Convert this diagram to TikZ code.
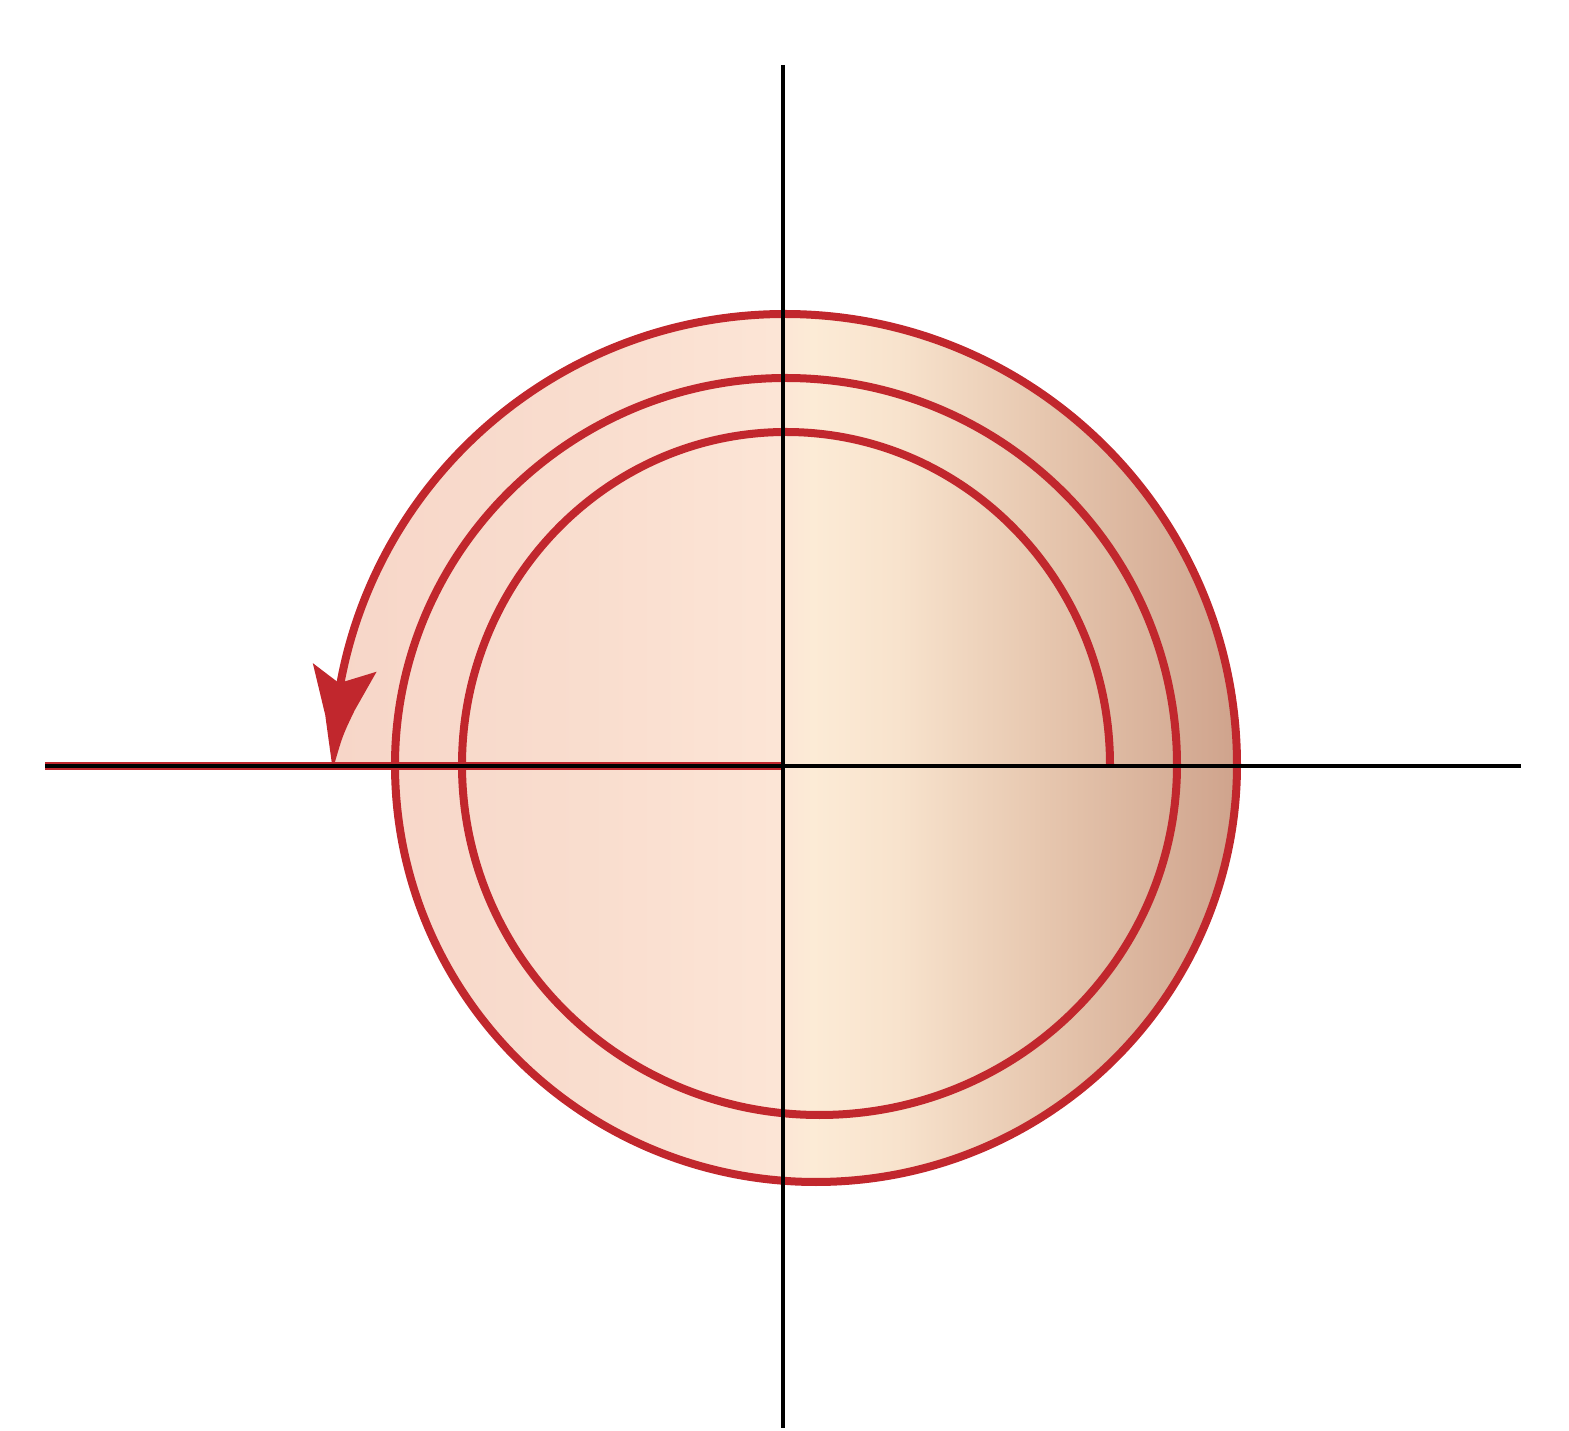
\documentclass[tikz,border=0pt]{standalone}
\definecolor{spred}{HTML}{C1272D}
\definecolor{cA}{HTML}{F7D6C8}
\definecolor{cB}{HTML}{F9DDCE}
\definecolor{cC}{HTML}{FCE5D6}
\definecolor{cD}{HTML}{FCEBD6}
\definecolor{cE}{HTML}{F8E3CD}
\definecolor{cF}{HTML}{E6C6AE}
\definecolor{cG}{HTML}{CFA38C}
\pgfdeclarehorizontalshading{spiralshade}{100bp}{color(0bp)=(cA); color(25bp)=(cA); color(39bp)=(cB); color(49.6bp)=(cC); color(51.5bp)=(cD); color(56.2bp)=(cE); color(64.5bp)=(cF); color(75bp)=(cG); color(100bp)=(cG)}
\begin{document}
\begin{tikzpicture}[x=0.01cm,y=-0.01cm,
  spiral/.style={draw=spred,line width=0.08cm},
  arrowhead/.style={fill=spred,draw=spred,line width=0.015cm,line join=miter},
  axisline/.style={draw=black,line width=0.042cm},
  redline/.style={draw=spred,line width=0.085cm}]
\useasboundingbox (0,0) rectangle (1569,1431);
% fill
\shade[shading=spiralshade] (1237,765) arc[start angle=0,end angle=-180,x radius=452,y radius=451]
  -- (395,765) arc[start angle=180,end angle=0,x radius=421,y radius=417] -- cycle;
% coordinates
\coordinate (s0) at (1110,765);
\coordinate (hl) at (45,766);
\coordinate (hr) at (1521,766);
\coordinate (hm) at (782,766);
\coordinate (vt) at (783,65);
\coordinate (vb) at (783,1428);
\coordinate (tip) at (333,766);
\coordinate (bl) at (314,665);
\coordinate (nt) at (339,684);
\coordinate (br) at (375,673);
% red part of horizontal line
\draw[redline] (hl) -- (hm);
% spiral
\draw[spiral] (s0)
  arc[start angle=0,end angle=-180,x radius=324,y radius=333]
  arc[start angle=180,end angle=0,x radius=357.5,y radius=350]
  arc[start angle=0,end angle=-180,x radius=391,y radius=387]
  arc[start angle=180,end angle=0,x radius=421,y radius=417]
  arc[start angle=0,end angle=-176,x radius=452,y radius=451];
% arrowhead
\path[arrowhead] (tip) .. controls (328,730) .. (326,715) -- (bl) -- (nt) -- (br) -- (354,710) .. controls (342,735) .. (tip) -- cycle;
% axes
\draw[axisline] (hl) -- (hr);
\draw[axisline] (vt) -- (vb);
\end{tikzpicture}
\end{document}
